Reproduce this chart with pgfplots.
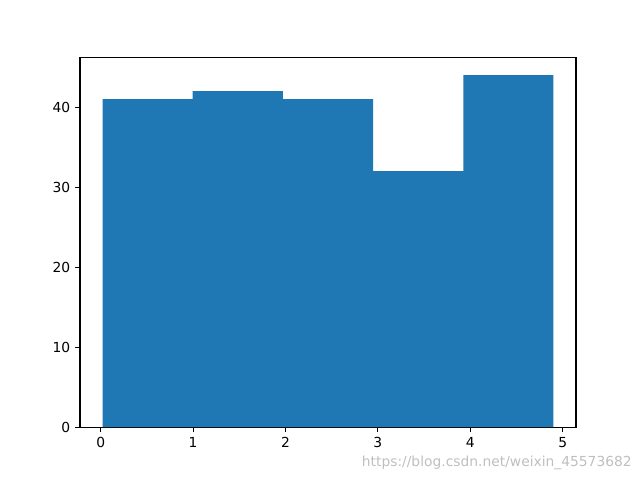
\documentclass[border=0pt]{standalone}
\usepackage{pgfplots}
\pgfplotsset{compat=1.18}
\usepackage{fontspec}
\setmainfont{DejaVu Sans}
\definecolor{mplblue}{HTML}{1F77B4}
\begin{document}
\begin{tikzpicture}
\useasboundingbox (-0.8in,-0.528in) rectangle (5.6in,4.272in);
\begin{axis}[
  at={(0,0)}, anchor=south west,
  scale only axis,
  width=4.96in, height=3.696in,
  xmin=-0.224, xmax=5.144,
  ymin=0, ymax=46.2,
  xtick={0,1,2,3,4,5},
  ytick={0,10,20,30,40},
  tick align=outside,
  tick pos=left,
  major tick length=3.5pt,
  axis line style={black, line width=0.8pt},
  tick style={black, line width=0.8pt},
  ticklabel style={font=\fontsize{10}{12}\selectfont},
  /pgf/number format/assume math mode=true,
]
\addplot[ybar interval, fill=mplblue, draw=none] coordinates {
  (0.02,41) (0.996,42) (1.972,41) (2.948,32) (3.924,44) (4.90,44)
};
\end{axis}
\node[anchor=south east, text=black!25, font=\fontsize{10}{12}\selectfont, inner sep=0pt] at (5.52in,-0.43in) {https://blog.csdn.net/weixin\_45573682};
\end{tikzpicture}
\end{document}
